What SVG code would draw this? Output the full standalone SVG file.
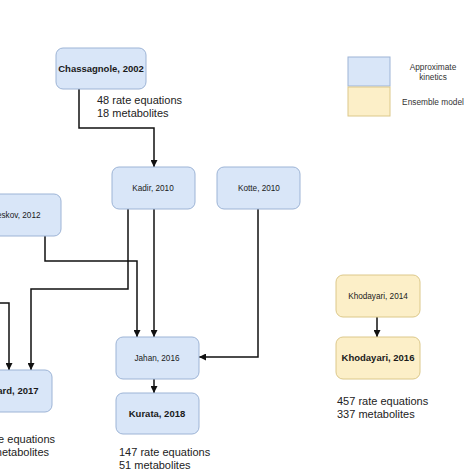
<svg xmlns="http://www.w3.org/2000/svg" width="474" height="474" viewBox="0 0 474 474">
<defs>
<marker id="ah" viewBox="0 0 10 10" refX="10" refY="5" markerWidth="7" markerHeight="7" markerUnits="userSpaceOnUse" orient="auto">
<path d="M0,0 L10,5 L0,10 Z" fill="#111"/>
</marker>
<style>
.blue{fill:#d9e6f8;stroke:#9db4d6;stroke-width:1}
.yel{fill:#fcefc8;stroke:#dcc88a;stroke-width:1}
.t{font-family:"Liberation Sans",Arial,sans-serif;fill:#1a1a1a;text-anchor:middle}
.n{font-size:8.2px}
.b{font-size:9.5px;font-weight:bold}
.info{font-family:"Liberation Sans",Arial,sans-serif;fill:#222;font-size:11px}
.lg{font-family:"Liberation Sans",Arial,sans-serif;fill:#333;font-size:8.3px;text-anchor:middle}
.c{fill:none;stroke:#111;stroke-width:1.5}
</style>
</defs>
<rect width="474" height="474" fill="#fff"/>
<g id="connectors">
<path class="c" d="M79,89 V128 H154 V167" marker-end="url(#ah)"/>
<path class="c" d="M45,236 V261 H137 V337" marker-end="url(#ah)"/>
<path class="c" d="M128,209 V289 H31 V370" marker-end="url(#ah)"/>
<path class="c" d="M-5,303 H9 V370" marker-end="url(#ah)"/>
<path class="c" d="M154,209 V337" marker-end="url(#ah)"/>
<path class="c" d="M258,209 V357 H199" marker-end="url(#ah)"/>
<path class="c" d="M154,379 V393" marker-end="url(#ah)"/>
<path class="c" d="M377,317 V337" marker-end="url(#ah)"/>
</g>
<g id="chassagnole">
<rect class="blue" x="56" y="48" width="90" height="41" rx="7"/>
<text class="t b" x="101" y="72">Chassagnole, 2002</text>
<text class="info" x="97" y="104">48 rate equations</text>
<text class="info" x="97" y="117">18 metabolites</text>
</g>
<g id="kadir">
<rect class="blue" x="112" y="167" width="83" height="42" rx="7"/>
<text class="t n" x="153" y="191">Kadir, 2010</text>
</g>
<g id="kotte">
<rect class="blue" x="217" y="167" width="83" height="42" rx="7"/>
<text class="t n" x="259" y="191">Kotte, 2010</text>
</g>
<g id="peskov">
<rect class="blue" x="-22" y="194" width="83" height="42" rx="7"/>
<text class="t n" x="16" y="218">Peskov, 2012</text>
</g>
<g id="millard">
<rect class="blue" x="-31" y="370" width="83" height="42" rx="7"/>
<text class="t b" x="10" y="394">Millard, 2017</text>
<text class="info" x="55" y="443" text-anchor="end">62 rate equations</text>
<text class="info" x="49" y="456" text-anchor="end">68 metabolites</text>
</g>
<g id="jahan">
<rect class="blue" x="116" y="337" width="83" height="42" rx="7"/>
<text class="t n" x="157" y="361">Jahan, 2016</text>
</g>
<g id="kurata">
<rect class="blue" x="116" y="393" width="83" height="41" rx="7"/>
<text class="t b" x="157" y="417">Kurata, 2018</text>
<text class="info" x="119" y="456">147 rate equations</text>
<text class="info" x="119" y="469">51 metabolites</text>
</g>
<g id="khodayari2014">
<rect class="yel" x="336" y="275" width="84" height="42" rx="7"/>
<text class="t n" x="378" y="299">Khodayari, 2014</text>
</g>
<g id="khodayari2016">
<rect class="yel" x="336" y="337" width="84" height="42" rx="7"/>
<text class="t b" x="378" y="361">Khodayari, 2016</text>
<text class="info" x="337" y="405">457 rate equations</text>
<text class="info" x="337" y="418">337 metabolites</text>
</g>
<g id="legend">
<rect class="blue" x="348" y="57" width="42" height="29"/>
<rect class="yel" x="348" y="87" width="42" height="29"/>
<text class="lg" x="433" y="70">Approximate</text>
<text class="lg" x="433" y="80">kinetics</text>
<text class="lg" x="433" y="105">Ensemble model</text>
</g>
</svg>
